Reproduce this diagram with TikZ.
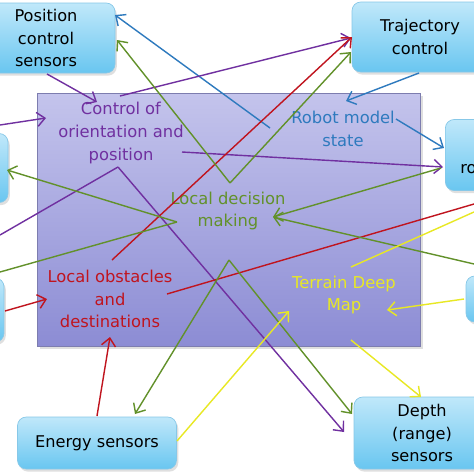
\documentclass[tikz,border=0pt]{standalone}
\usepackage{fontspec}
\newfontfamily\diafont{DejaVu Sans}
\usepackage{tikz}
\usetikzlibrary{arrows.meta, shadows}

\definecolor{boxtop}{RGB}{192,232,250}
\definecolor{boxbot}{RGB}{105,198,240}
\definecolor{boxline}{RGB}{135,200,232}
\definecolor{areatop}{RGB}{196,196,236}
\definecolor{areabot}{RGB}{140,140,212}
\definecolor{arealine}{RGB}{125,125,175}
\definecolor{lnpurple}{RGB}{112,48,160}
\definecolor{lnblue}{RGB}{46,122,190}
\definecolor{lnred}{RGB}{192,20,30}
\definecolor{lngreen}{RGB}{98,145,42}
\definecolor{lnyellow}{RGB}{232,232,36}

\tikzset{
    sensor/.style={rectangle, rounded corners=5pt, draw=boxline, top color=boxtop,
        bottom color=boxbot, align=center, text=black,
        font=\diafont\fontsize{9.2}{12.6}\selectfont,
        drop shadow={shadow xshift=1pt, shadow yshift=-1.5pt, opacity=0.25}},
    lbl/.style={align=center, inner sep=0pt, font=\diafont\fontsize{9.3}{12.9}\selectfont},
    conn/.style={line width=0.8pt},
    >={Straight Barb[length=4.5pt,width=8pt]}
}

\begin{document}
\begin{tikzpicture}[x=0.02cm, y=-0.02cm]
    \def\px{0.02cm}
    \clip (0,0) rectangle (474,474);
    \fill[white] (0,0) rectangle (474,474);

    % decision area
    \path[draw=arealine, top color=areatop, bottom color=areabot,
        drop shadow={shadow xshift=1.5pt, shadow yshift=-1.5pt, opacity=0.25}]
        (37,93) rectangle (420,346);

    % labels in the area
    \node[lbl, text=lnpurple] (orient) at (121,133) {Control of\\orientation and\\position};
    \node[lbl, text=lnblue] (model) at (343,129) {Robot model\\state};
    \node[lbl, text=lngreen] (decide) at (228,211) {Local decision\\making};
    \node[lbl, text=lnred] (obst) at (110,299) {Local obstacles\\and\\destinations};
    \node[lbl, text=lnyellow] (terrain) at (344,295) {Terrain Deep\\Map};

    % boxes
    \node[sensor, minimum width=138*\px, minimum height=70*\px] (pcs) at (46,38) {Position\\control\\sensors};
    \node[sensor, minimum width=136*\px, minimum height=70*\px] (traj) at (420,37) {Trajectory\\control};
    \node[sensor, anchor=west, minimum width=100*\px, minimum height=71*\px, text width=70*\px,
        align=left, inner xsep=15*\px] (robo) at (445,155) {\strut\\ro};
    \node[sensor, minimum width=96*\px, minimum height=69*\px] (left1) at (-40,168) {};
    \node[sensor, minimum width=96*\px, minimum height=64*\px] (left2) at (-44,310) {};
    \node[sensor, minimum width=100*\px, minimum height=46*\px] (right2) at (516,299) {};
    \node[sensor, minimum width=159*\px, minimum height=52*\px] (energy) at (97,443) {Energy sensors};
    \node[sensor, minimum width=136*\px, minimum height=72*\px] (depth) at (422,433) {Depth\\(range)\\sensors};

    % end points of the connectors
    \foreach \n/\x/\y in {
        ms1/270/128, ms2/346/101, ms3/396/119,
        op1/120/96, op2/97/102, op3/46/118, op4/182/152, op5/118/167,
        lo1/112/260, lo2/110/337, lo3/47/299, lo4/167/294,
        ld1/230/183, ld2/177/222, ld3/273/217, ld4/229/260,
        tm1/351/267, tm2/387/310, tm3/289/311, tm4/351/340,
        pc1/115/15, pc2/47/74, pc3/117/40,
        tc1/419/73, tc2/351/38, tc3/352/37, tc4/351/52,
        ro1/444/148, ro2/443/167, ro3/441/168,
        lb1/7/170, lb2/5/311, rb2/464/299,
        es1/97/416, es2/135/414, es3/177/441,
        ds1/344/432, ds2/352/414, ds3/421/397,
        w1/0/125, w2/0/235, w3/0/272,
        e1/474/204, e2/474/264, e3/474/212}{
        \coordinate (\n) at (\x,\y);
    }

    % connectors
    \foreach \a/\b/\co/\tip in {
        ms1/pc1/lnblue/->, tc1/ms2/lnblue/->, ms3/ro1/lnblue/->,
        op1/tc2/lnpurple/->, pc2/op2/lnpurple/->, w1/op3/lnpurple/->,
        op4/ro2/lnpurple/->, op5/w2/lnpurple/-, op5/ds1/lnpurple/->,
        lo1/tc3/lnred/->, es1/lo2/lnred/->, lb2/lo3/lnred/->, lo4/e1/lnred/-,
        ld1/pc3/lngreen/->, ld1/tc4/lngreen/->, ld2/lb1/lngreen/->, w3/ld2/lngreen/-,
        ro3/ld3/lngreen/->, e2/ld3/lngreen/->, ld4/es2/lngreen/->, ld4/ds2/lngreen/->,
        tm1/e3/lnyellow/-, rb2/tm2/lnyellow/->, es3/tm3/lnyellow/->, tm4/ds3/lnyellow/->}{
        \draw[conn, \co, \tip] (\a) -- (\b);
    }
\end{tikzpicture}
\end{document}
